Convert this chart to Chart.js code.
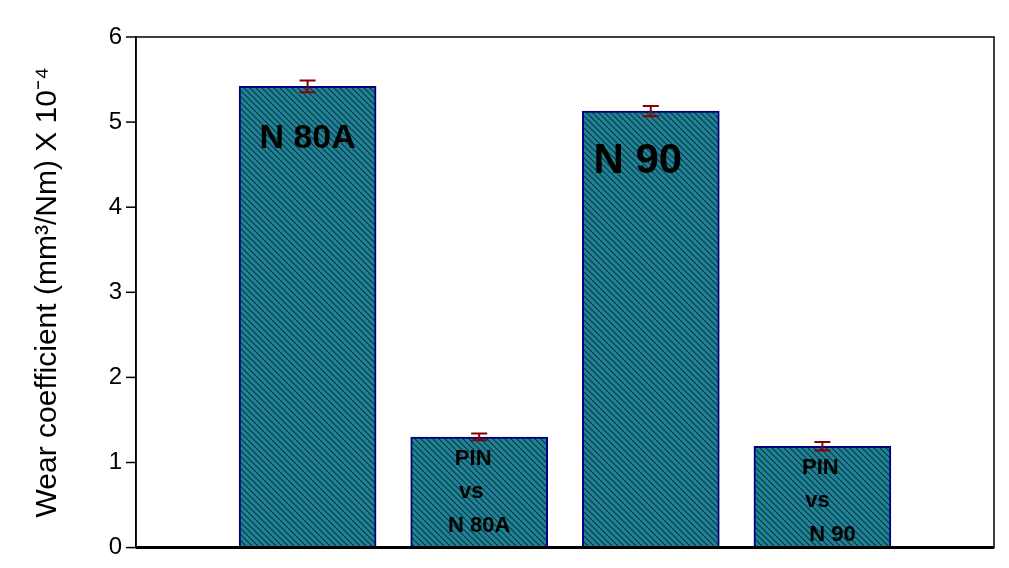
<!DOCTYPE html>
<html><head><script src="https://cdn.jsdelivr.net/npm/chart.js@4"></script>
<style>body{margin:0;background:#fff}#w{width:1009px;height:568px}</style></head>
<body><div id="w"><canvas id="c"></canvas></div>
<script>
const categories=["N 80A","PIN vs N 80A","N 90","PIN vs N 90"];
const positions=[1,2,3,4];
const values=[5.42,1.30,5.13,1.19];
const errors=[0.07,0.04,0.06,0.05];
const yTicks=[0,1,2,3,4,5,6];
const barLabels=[["N 80A"],["PIN","vs","N 80A"],["N 90"],["PIN","vs","N 90"]];

function hatch(){const p=document.createElement('canvas');p.width=p.height=6;const g=p.getContext('2d');
g.fillStyle='#1f8596';g.fillRect(0,0,6,6);g.strokeStyle='#0d3545';g.lineWidth=1.2;
g.beginPath();g.moveTo(-1,-1);g.lineTo(7,7);g.moveTo(-1,5);g.lineTo(1,7);g.moveTo(5,-1);g.lineTo(7,1);g.stroke();
return g.createPattern(p,'repeat');}
const ctx=document.getElementById('c').getContext('2d');
const deco={id:'deco',afterDatasetsDraw(ch){const c=ch.ctx,x=ch.scales.x,y=ch.scales.y,a=ch.chartArea;
c.save();c.strokeStyle='#000';c.lineWidth=1.5;c.strokeRect(a.left,a.top,a.right-a.left,a.bottom-a.top);
c.lineWidth=3;c.beginPath();c.moveTo(a.left,a.bottom);c.lineTo(a.right,a.bottom);c.stroke();
c.strokeStyle='#8b0000';c.lineWidth=2;
positions.forEach((p,i)=>{const px=x.getPixelForValue(p),t=y.getPixelForValue(values[i]+errors[i]),b=y.getPixelForValue(values[i]-errors[i]);
c.beginPath();c.moveTo(px,t);c.lineTo(px,b);c.moveTo(px-8,t);c.lineTo(px+8,t);c.moveTo(px-8,b);c.lineTo(px+8,b);c.stroke();});
c.fillStyle='#000';c.textAlign='center';c.textBaseline='middle';
positions.forEach((p,i)=>{const px=x.getPixelForValue(p);const L=barLabels[i];
if(L.length==1){c.font=i==0?'bold 34px "Liberation Sans"':'bold 42px "Liberation Sans"';
c.fillText(L[0],i==0?px:px-13,y.getPixelForValue(values[i])+(i==0?52:50));}
else{c.font='bold 22px "Liberation Sans"';const top=y.getPixelForValue(values[i]);
c.fillText(L[0],px+(i==3?-2:-6),top+22);c.fillText(L[1],px+(i==3?-5:-8),top+55);c.fillText(L[2],px+(i==3?10:0),top+89);}});
c.restore();}};
new Chart(ctx,{type:'bar',data:{datasets:[{data:positions.map((p,i)=>({x:p,y:values[i]})),backgroundColor:hatch(),borderColor:'#000080',borderWidth:2,borderSkipped:false,barThickness:137}]},
options:{responsive:true,maintainAspectRatio:false,animation:false,layout:{padding:{top:37,right:15,bottom:11,left:0}},
plugins:{legend:{display:false},tooltip:{enabled:false}},
scales:{x:{type:'linear',min:0,max:5,offset:false,display:false,grid:{display:false}},
y:{min:0,max:6,afterFit(s){s.width=136},afterBuildTicks(s){s.ticks=yTicks.map(v=>({value:v}))},
grid:{display:false,drawTicks:true},border:{color:'#000',width:1.5},
ticks:{color:'#000',font:{family:'Liberation Sans',size:24},padding:6},
title:{display:true,text:'Wear coefficient (mm³/Nm) X 10⁻⁴',color:'#000',font:{family:'Liberation Sans',size:30},padding:{top:30,bottom:0}}}}},
plugins:[deco,{id:'tk',afterDraw(ch){const c=ch.ctx,y=ch.scales.y,a=ch.chartArea;c.save();c.strokeStyle='#000';c.lineWidth=1.5;
yTicks.forEach(v=>{const py=y.getPixelForValue(v);c.beginPath();c.moveTo(a.left-10,py);c.lineTo(a.left,py);c.stroke();});c.restore();}}]});
</script></body></html>
